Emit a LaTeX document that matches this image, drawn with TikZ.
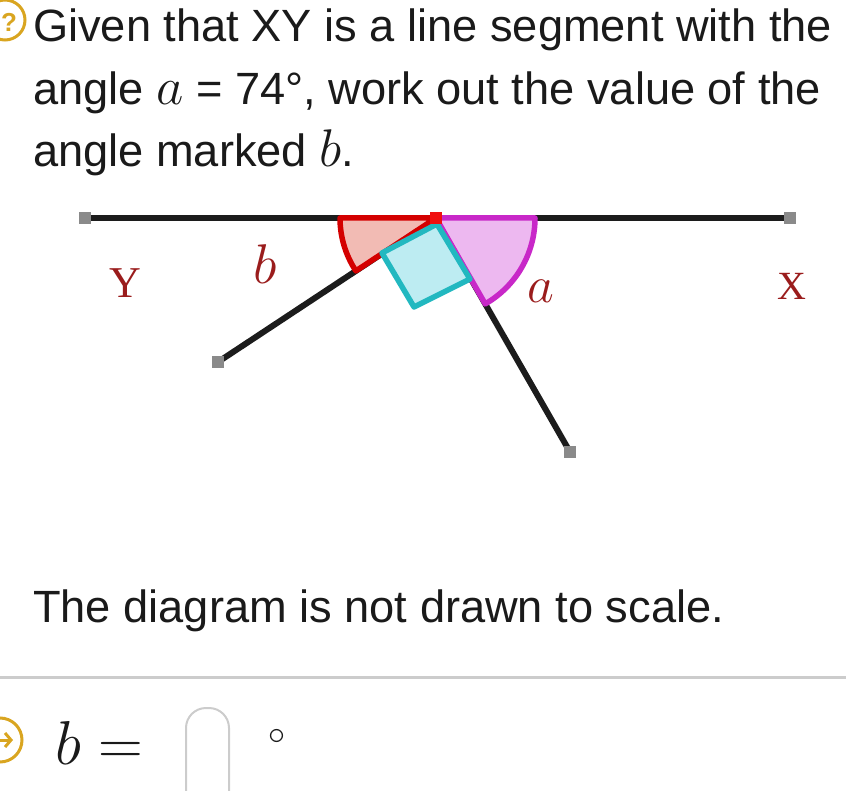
\RequirePackage{fix-cm}
\documentclass[tikz,border=0pt]{standalone}
\usepackage{fontspec}
\setmainfont{Liberation Sans}
\newfontfamily\labelfont{Liberation Serif}
\usetikzlibrary{calc,arrows.meta}
\definecolor{txt}{HTML}{1A1A1A}
\definecolor{lineblack}{HTML}{1C1C1C}
\definecolor{endgray}{HTML}{8A8A8A}
\definecolor{labelred}{HTML}{9A1C1C}
\definecolor{bstroke}{HTML}{D40000}
\definecolor{bfill}{HTML}{F2BBB4}
\definecolor{astroke}{HTML}{C828C8}
\definecolor{afill}{HTML}{EDB8F0}
\definecolor{rstroke}{HTML}{22B8C0}
\definecolor{rfill}{HTML}{BDECF2}
\definecolor{dotred}{HTML}{F01010}
\definecolor{rulegray}{HTML}{CCCCCC}
\definecolor{icongold}{HTML}{D9A520}
\newcommand{\bigvar}[1]{{\fontsize{53}{53}\selectfont$#1$}}

\begin{document}
\begin{tikzpicture}[x=1pt,y=1pt,
  seg/.style={line width=6pt,draw=lineblack},
  endpt/.style={fill=endgray},
  qtext/.style={anchor=base west,inner sep=0pt,text=txt,
    font=\fontsize{45.2}{53}\selectfont},
  lbl/.style={text=labelred,inner sep=0pt},
  bangle/.style={line width=5.5pt,draw=bstroke,fill=bfill,line join=round},
  aangle/.style={line width=5.5pt,draw=astroke,fill=afill,line join=round},
  rangle/.style={line width=5.5pt,draw=rstroke,fill=rfill,line join=round},
  icon/.style={line width=3pt,draw=icongold}]
	\useasboundingbox (0,0) rectangle (846,-791);
	\coordinate (O) at (436,-218);
	\coordinate (Y) at (85,-218);
	\coordinate (X) at (790,-218);
	\coordinate (P) at (218,-362);
	\coordinate (Q) at (570,-452);
	% question
	\draw[icon] (5,-20) circle (20);
	\node[text=icongold,inner sep=0pt,font=\bfseries\fontsize{26}{26}\selectfont] (qmark) at (9,-22) {?};
	\node[qtext] (q1) at (33,-42) {Given that XY is a line segment with the};
	\node[qtext] (q2) at (33,-105) {angle \bigvar{a} = 74°, work out the value of the};
	\node[qtext] (q3) at (33,-167) {angle marked \bigvar{b}.};
	% segment and rays
	\draw[seg] (Y) -- (X);
	\draw[seg] (O) -- (P);
	\draw[seg] (O) -- (Q);
	\filldraw[bangle] (O) -- ++(180:96) arc (180:213.45:96) -- cycle;
	\filldraw[aangle] (O) -- ++(0:99) arc (0:-60.2:99) -- cycle;
	% right angle box
	\coordinate (r1) at (437,-224);
	\coordinate (r2) at (382,-253);
	\coordinate (r3) at (414,-307);
	\coordinate (r4) at (470,-279);
	\filldraw[rangle] (r1) -- (r2) -- (r3) -- (r4) -- cycle;
	\fill[dotred] ($(O)+(-6,-6)$) rectangle ++(12,12);
	\foreach \p in {Y,X,P,Q} \fill[endpt] ($(\p)+(-6,-6)$) rectangle ++(12,12);
	\node[lbl,font=\labelfont\fontsize{44}{44}\selectfont] (ylbl) at (125,-283) {Y};
	\node[lbl,font=\labelfont\fontsize{40}{40}\selectfont] (xlbl) at (792,-286) {X};
	\node[lbl,font=\fontsize{56}{56}\selectfont] (blbl) at (265,-264) {$b$};
	\node[lbl,font=\fontsize{52}{52}\selectfont] (albl) at (541,-291) {$a$};
	% note and answer
	\node[qtext] (note) at (33,-622) {The diagram is not drawn to scale.};
	\draw[rulegray,line width=3pt] (0,-677) -- (846,-677);
	\draw[icon] (0,-740) circle (22);
	\draw[icon,-{Straight Barb[length=6pt,width=14pt]}] (-10,-740) -- (13,-740);
	\node[anchor=base west,inner sep=0pt,text=txt,font=\fontsize{62}{62}\selectfont] (ans) at (55,-764) {$b =$};
	\draw[rulegray,line width=2pt,rounded corners=20pt] (186,-795) -- (186,-708) -- (229,-708) -- (229,-795);
	\node[text=txt,inner sep=0pt,font=\fontsize{34}{34}\selectfont] (deg) at (277,-737) {$\circ$};
\end{tikzpicture}
\end{document}
